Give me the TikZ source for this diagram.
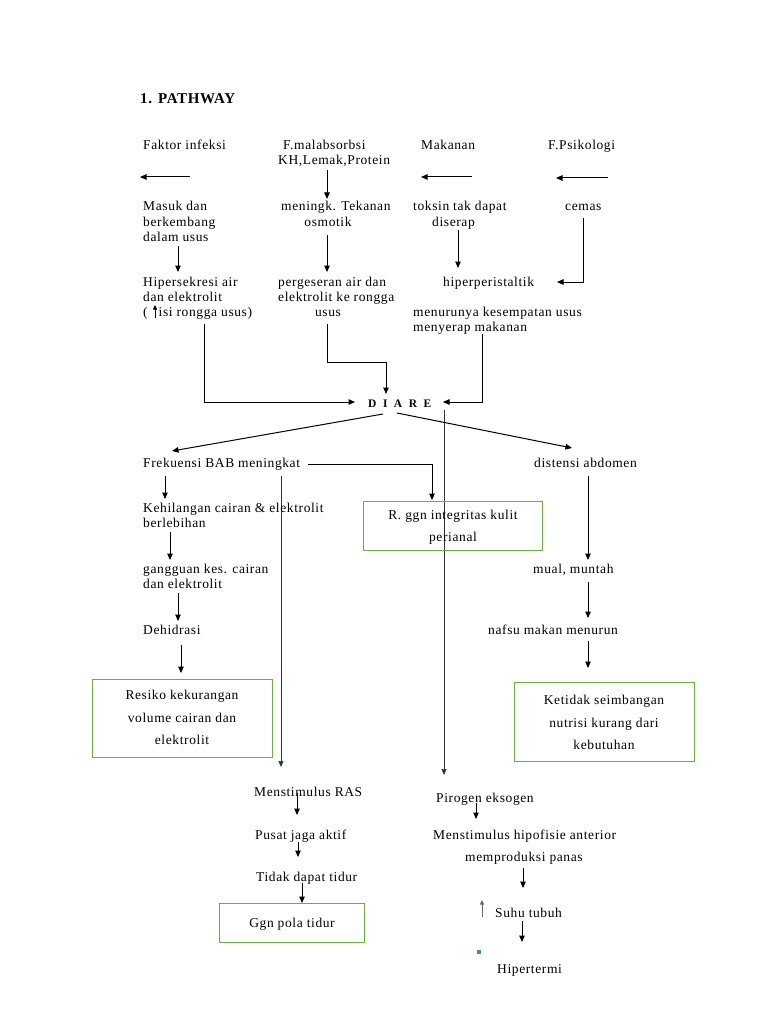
\documentclass[tikz,border=0pt]{standalone}
\usepackage{fontspec}
\setmainfont{Liberation Serif}[LetterSpace=4.5]
\usetikzlibrary{arrows.meta}
\definecolor{boxgreen}{RGB}{112,173,71}
\definecolor{sqblue}{RGB}{79,129,189}
\begin{document}
\begin{tikzpicture}[x=1pt,y=-1pt,
  t/.style={font=\fontsize{13.5}{15}\selectfont, inner sep=0pt, anchor=base west},
  tc/.style={font=\fontsize{13.5}{15}\selectfont, inner sep=0pt, anchor=base},
  arr/.style={-{Triangle[length=6.5pt,width=5.5pt]}, line width=1pt},
  longarr/.style={-{Triangle[length=6pt,width=5pt]}, line width=0.7pt, black!80},
  gbox/.style={draw=boxgreen, line width=1.2pt, inner sep=0pt}]
\useasboundingbox (0,0) rectangle (768,1024);

% title
\node[inner sep=0pt, anchor=base west, font=\fontsize{15}{17}\selectfont\bfseries] (title) at (140,104) {1. PATHWAY};

% row 1
\node[t] (fi) at (143,150) {Faktor infeksi};
\node[t] (fm1) at (283,150) {F.malabsorbsi};
\node[t] (fm2) at (278,165) {KH,Lemak,Protein};
\node[t] (mk) at (421,150) {Makanan};
\node[t] (fp) at (548,150) {F.Psikologi};

\coordinate (a1s) at (190,177); \coordinate (a1e) at (140,177);
\coordinate (a2s) at (327,170); \coordinate (a2e) at (327,199);
\coordinate (a3s) at (472,177); \coordinate (a3e) at (421,177);
\coordinate (a4s) at (608,178); \coordinate (a4e) at (556,178);
\draw[arr] (a1s) -- (a1e);
\draw[arr] (a2s) -- (a2e);
\draw[arr] (a3s) -- (a3e);
\draw[arr] (a4s) -- (a4e);

% row 2
\node[t] (ms1) at (143,211) {Masuk dan};
\node[t] (ms2) at (143,226) {berkembang};
\node[t] (ms3) at (143,241) {dalam usus};
\node[t] (mn1) at (281,211) {meningk. Tekanan};
\node[tc] (mn2) at (328,226) {osmotik};
\node[t] (tk1) at (413,211) {toksin tak dapat};
\node[t] (tk2) at (432,226) {diserap};
\node[t] (cm) at (565,211) {cemas};

% row 3
\node[t] (hs1) at (143,286) {Hipersekresi air};
\node[t] (hs2) at (143,301) {dan elektrolit};
\node[t] (hs3) at (143,316) {(\hspace{11pt}isi rongga usus)};
\coordinate (up1s) at (155,318); \coordinate (up1e) at (155,305);
\draw[-{Triangle[length=4.5pt,width=4pt]}, line width=0.8pt] (up1s) -- (up1e);
\node[t] (pg1) at (278,286) {pergeseran air dan};
\node[t] (pg2) at (278,301) {elektrolit ke rongga};
\node[tc] (pg3) at (328,316) {usus};
\node[t] (hp) at (443,286) {hiperperistaltik};
\node[t] (mr1) at (413,316) {menurunya kesempatan usus};
\node[t] (mr2) at (413,331) {menyerap makanan};

\draw[arr] (178,246) -- (178,272);
\draw[arr] (327,235) -- (327,272);
\draw[arr] (458,230) -- (458,268);
\draw[arr] (583,218) -- (583,282) -- (557,282);

% DIARE
\node[inner sep=0pt, anchor=base west, font=\fontsize{11.5}{14}\selectfont\bfseries] (diare) at (368,407) {D\hspace{6.5pt}I\hspace{6.5pt}A\hspace{6.5pt}R\hspace{6.5pt}E};
\draw[arr] (204,324) -- (204,402) -- (355,402);
\draw[arr] (327,324) -- (327,362) -- (386,362) -- (386,394);
\draw[arr] (482,334) -- (482,402) -- (443,402);

% long line to Pirogen
\draw[longarr] (444,410) -- (444,775);

% diagonal
\draw[arr] (383,414) -- (172,451);
\draw[arr] (397,413) -- (572,448);

% left branch
\node[t] (fb) at (143,467) {Frekuensi BAB meningkat};
\node[t] (dis) at (534,467) {distensi abdomen};

\node[gbox, minimum width=179pt, minimum height=49pt, anchor=north west] (rg) at (363,501) {};
\node[tc] (rg1) at (453,519) {R. ggn integritas kulit};
\node[tc] (rg2) at (453,541) {perianal};
\draw[arr] (308,464) -- (432,464) -- (432,500);

\draw[arr] (165,476) -- (165,499);
\draw[longarr] (281,476) -- (281,767);

\node[t] (kh1) at (143,512) {Kehilangan cairan \& elektrolit};
\node[t] (kh2) at (143,527) {berlebihan};
\draw[arr] (170,532) -- (170,560);
\node[t] (gg1) at (143,573) {gangguan kes. cairan};
\node[t] (gg2) at (143,588) {dan elektrolit};
\draw[arr] (178,593) -- (178,621);
\node[t] (dh) at (143,634) {Dehidrasi};
\draw[arr] (181,645) -- (181,673);

\node[gbox, minimum width=180pt, minimum height=78pt, anchor=north west] (rk) at (92,679) {};
\node[tc] (rk1) at (182,699) {Resiko kekurangan};
\node[tc] (rk2) at (182,722) {volume cairan dan};
\node[tc] (rk3) at (182,744) {elektrolit};

% right branch
\draw[arr] (588,476) -- (588,560);
\node[t] (mu) at (533,573) {mual, muntah};
\draw[arr] (588,582) -- (588,618);
\node[t] (nf) at (488,634) {nafsu makan menurun};
\draw[arr] (588,641) -- (588,668);
\node[gbox, minimum width=180pt, minimum height=79pt, anchor=north west] (kt) at (514,682) {};
\node[tc] (kt1) at (604,704) {Ketidak seimbangan};
\node[tc] (kt2) at (604,727) {nutrisi kurang dari};
\node[tc] (kt3) at (604,749) {kebutuhan};

% bottom left
\node[t] (ras) at (254,796) {Menstimulus RAS};
\draw[arr] (297,793) -- (297,815);
\node[t] (pj) at (255,839) {Pusat jaga aktif};
\draw[arr] (298,842) -- (298,857);
\node[t] (td) at (256,881) {Tidak dapat tidur};
\draw[arr] (302,883) -- (302,903);
\node[gbox, minimum width=145pt, minimum height=39pt, anchor=north west] (gp) at (219,903) {};
\node[tc] (gp1) at (292,927) {Ggn pola tidur};

% bottom right
\node[t] (pe) at (436,802) {Pirogen eksogen};
\draw[arr] (476,803) -- (476,819);
\node[t] (mh) at (433,839) {Menstimulus hipofisie anterior};
\node[t] (mp) at (465,861) {memproduksi panas};
\draw[arr] (523,868) -- (523,888);
\draw[-{Triangle[length=4.5pt,width=4pt]}, line width=0.8pt, black!60] (482,917) -- (482,900);
\node[t] (st) at (495,917) {Suhu tubuh};
\draw[arr] (522,921) -- (522,942);
\fill[sqblue] (477,950) rectangle (481,954);
\node[t] (ht) at (497,973) {Hipertermi};
\end{tikzpicture}
\end{document}
